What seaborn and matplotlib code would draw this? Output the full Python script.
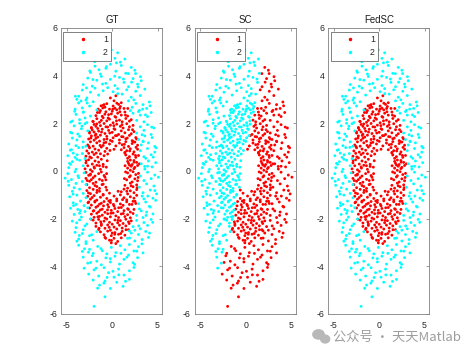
import matplotlib
matplotlib.use("Agg")
import matplotlib.pyplot as plt
import pandas as pd
import seaborn as sns
from matplotlib.lines import Line2D
from matplotlib.patches import Ellipse

PANEL_TITLES = ["GT", "SC", "FedSC"]
CLUSTER_NAMES = ["1", "2"]
CLUSTER_COLORS = {1: "#ff0000", 2: "#00ffff"}
X_TICKS = [-5, 0, 5]
Y_TICKS = [-6, -4, -2, 0, 2, 4, 6]

# inner ring, SC puts these in cluster 2
inner_left = [
    (-0.6, 2.81), (0.2, 2.93), (0.7, 2.78), (-0.2, 3.05), (0.4, 3.14), (-0.9, 2.77), (1.0, 2.85),
    (-1.3, 2.52), (-0.8, 2.66), (-0.3, 2.58), (0.1, 2.71), (0.5, 2.55), (0.9, 2.69), (-1.0, 2.74), (0.3, 2.62),
    (-1.8, 2.31), (-1.4, 2.44), (-1.1, 2.28), (-0.7, 2.47), (-0.4, 2.35), (0.0, 2.49), (0.3, 2.27), (0.6, 2.41), (-0.1, 2.38),
    (-2.1, 2.06), (-1.7, 2.18), (-1.4, 2.03), (-1.0, 2.22), (-0.6, 2.09), (-0.3, 2.16), (0.1, 2.01), (0.4, 2.24), (-1.2, 2.11),
    (-2.3, 1.81), (-2.0, 1.94), (-1.6, 1.77), (-1.3, 1.89), (-0.9, 1.98), (-0.5, 1.83), (-0.2, 1.91), (0.2, 1.76), (0.5, 1.95), (-1.8, 1.86),
    (-2.5, 1.58), (-2.2, 1.71), (-1.8, 1.53), (-1.5, 1.66), (-1.1, 1.74), (-0.8, 1.56), (-0.4, 1.69), (0.0, 1.61), (0.3, 1.73), (-2.0, 1.62),
    (-2.6, 1.33), (-2.3, 1.46), (-2.0, 1.28), (-1.6, 1.41), (-1.3, 1.49), (-0.9, 1.31), (-0.6, 1.44), (-0.2, 1.27), (0.1, 1.38), (-1.8, 1.36),
    (-2.7, 1.08), (-2.4, 1.21), (-2.1, 1.03), (-1.7, 1.17), (-1.4, 1.24), (-1.0, 1.06), (-0.7, 1.19), (-0.3, 1.12), (0.0, 1.23),
    (-2.8, 0.83), (-2.5, 0.96), (-2.2, 0.78), (-1.9, 0.91), (-1.5, 0.86), (-1.2, 0.99), (-0.8, 0.81), (-0.6, 0.94),
    (-2.9, 0.61), (-2.6, 0.73), (-2.3, 0.54), (-2.0, 0.68), (-1.6, 0.57), (-1.3, 0.71), (-0.9, 0.63), (-0.5, 0.70),
    (-2.9, 0.33), (-2.6, 0.46), (-2.2, 0.28), (-1.9, 0.41), (-1.5, 0.36), (-1.2, 0.48), (-1.0, 0.27),
    (-3.0, 0.08), (-2.7, 0.21), (-2.4, 0.04), (-2.0, 0.16), (-1.7, 0.23), (-1.3, 0.06), (-1.0, 0.18),
    (-2.9, -0.07), (-2.6, -0.19), (-2.2, -0.03), (-1.9, -0.22), (-1.5, -0.12), (-1.2, -0.05), (-0.9, -0.20), (-2.4, -0.14),
    (-2.9, -0.32), (-2.5, -0.44), (-2.1, -0.29), (-1.8, -0.48), (-1.4, -0.36), (-1.1, -0.41), (-0.8, -0.27), (-2.3, -0.37),
    (-2.8, -0.58), (-2.5, -0.71), (-2.1, -0.53), (-1.7, -0.66), (-1.4, -0.74), (-1.0, -0.56), (-0.7, -0.69), (-1.9, -0.62),
    (-2.8, -0.83), (-2.4, -0.96), (-2.1, -0.78), (-1.7, -0.91), (-1.4, -0.86), (-1.0, -0.99),
    (-2.7, -1.07), (-2.4, -1.19), (-2.0, -1.04), (-1.7, -1.23), (-1.3, -1.11), (-1.0, -1.02),
    (-2.6, -1.31), (-2.3, -1.44), (-1.9, -1.27), (-1.6, -1.48), (-1.2, -1.36), (-1.4, -1.40),
    (-2.5, -1.56), (-2.1, -1.69), (-1.8, -1.53), (-1.5, -1.72), (-1.3, -1.64),
    (-2.3, -1.82), (-2.0, -1.95), (-1.7, -1.78), (-1.4, -1.91),
    (-2.1, -2.07), (-1.8, -2.19), (-1.5, -2.04),
    (-1.8, -2.33),
    (-1.55, 2.58), (0.85, 2.47), (-2.35, 1.37), (-0.45, 2.21), (-2.76, -0.41), (-1.18, 1.62),
    (0.18, 1.89), (-1.92, -1.31), (-2.47, 0.58), (-1.63, 2.44), (-2.21, -1.12), (0.51, 2.83),
    (-1.04, 2.63), (-2.58, 1.02), (-1.41, 0.21), (-2.03, -1.67), (0.36, 1.47), (-1.77, 0.74),
    (-0.58, 1.33), (-2.62, -0.93), (-0.81, 2.37), (-2.14, 2.07), (0.07, 2.58), (-1.66, -0.82),
    (-2.88, 0.42), (-0.27, 1.58), (-1.34, 1.06), (-1.87, 1.48), (-2.43, -0.18), (-1.12, -0.58),
    (-0.69, 1.84), (-2.29, 1.79), (-2.67, -1.34), (0.47, 2.09), (-1.71, 1.96), (-1.96, 0.11),
    (-1.23, 2.72), (0.82, 2.61), (-2.52, 1.63), (-0.91, 1.17), (-2.34, -2.03), (-1.58, -1.93),
    (-0.65, 0.15), (-0.70, -0.38), (-0.55, 0.42), (-0.62, -0.12), (-0.25, 0.85),
]

# inner ring, SC puts these in cluster 1
inner_right = [
    (1.3, 2.61),
    (1.0, 2.33), (1.4, 2.46), (1.7, 2.29),
    (0.8, 2.12), (1.1, 2.05), (1.5, 2.19), (1.9, 2.08), (2.1, 2.14),
    (0.9, 1.86), (1.2, 1.79), (1.6, 1.97), (1.9, 1.84), (2.3, 1.90),
    (0.7, 1.52), (1.0, 1.67), (1.4, 1.59), (1.8, 1.72), (2.1, 1.55), (2.4, 1.64),
    (0.5, 1.47), (0.8, 1.29), (1.2, 1.42), (1.5, 1.34), (1.9, 1.48), (2.2, 1.26), (2.6, 1.39),
    (0.4, 1.04), (0.8, 1.16), (1.1, 1.09), (1.5, 1.22), (1.8, 1.02), (2.2, 1.14), (2.5, 1.20), (2.8, 1.07),
    (1.0, 0.88), (1.4, 0.77), (1.3, 0.97), (1.6, 0.84), (2.0, 0.92), (2.4, 0.79), (2.8, 0.90),
    (1.5, 0.66), (1.7, 0.52), (1.4, 0.74), (1.9, 0.59), (2.3, 0.70), (2.6, 0.56), (2.9, 0.64),
    (1.7, 0.39), (1.8, 0.31), (2.0, 0.45), (2.2, 0.26), (2.4, 0.43), (2.7, 0.35), (3.0, 0.29),
    (1.7, 0.11), (1.9, 0.24), (2.0, 0.02), (2.1, 0.19), (2.4, 0.09), (2.8, 0.22), (2.5, 0.14),
    (1.7, -0.09), (2.0, -0.21), (2.3, -0.04), (2.6, -0.16), (2.9, -0.11),
    (1.6, -0.38), (1.9, -0.26), (2.2, -0.47), (2.5, -0.34), (2.8, -0.42),
    (1.4, -0.61), (1.7, -0.73), (2.0, -0.52), (2.3, -0.67), (2.7, -0.59),
    (-0.6, -0.81), (-0.3, -0.94), (1.0, -0.88), (1.3, -0.77), (1.7, -0.97), (2.0, -0.84), (2.4, -0.92), (2.7, -0.79),
    (-0.6, -1.16), (-0.2, -1.24), (0.2, -1.06), (0.5, -1.18), (0.9, -1.01), (1.3, -1.13), (1.6, -1.22), (2.0, -1.09), (2.4, -1.15), (2.7, -1.03),
    (-0.9, -1.29), (-0.5, -1.42), (-0.2, -1.33), (0.2, -1.47), (0.5, -1.26), (0.9, -1.39), (1.2, -1.45), (1.6, -1.30), (1.9, -1.41), (2.3, -1.28), (2.6, -1.37),
    (-1.1, -1.61), (-0.8, -1.74), (-0.4, -1.52), (-0.1, -1.66), (0.3, -1.58), (0.6, -1.71), (1.0, -1.54), (1.3, -1.67), (1.7, -1.59), (2.0, -1.73), (2.4, -1.62),
    (-1.1, -1.86), (-0.8, -1.98), (-0.5, -1.80), (-0.2, -1.93), (0.1, -1.77), (0.4, -1.89), (0.7, -1.96), (1.0, -1.81), (1.4, -1.92), (1.7, -1.84), (2.0, -1.97), (2.3, -1.79),
    (-1.2, -2.23), (-0.9, -2.11), (-0.6, -2.02), (-0.3, -2.16), (0.0, -2.24), (0.3, -2.06), (0.6, -2.18), (0.9, -2.09), (1.2, -2.21), (1.5, -2.03), (1.8, -2.14), (2.1, -2.10),
    (-1.5, -2.46), (-1.2, -2.29), (-0.8, -2.41), (-0.5, -2.27), (-0.2, -2.49), (0.2, -2.36), (0.5, -2.44), (0.8, -2.28), (1.1, -2.40), (1.5, -2.31), (1.8, -2.47),
    (-1.3, -2.56), (-0.9, -2.68), (-0.5, -2.53), (-0.1, -2.72), (0.3, -2.59), (0.7, -2.66), (1.1, -2.54), (1.4, -2.70), (0.0, -2.61),
    (-0.8, -2.79), (-0.3, -2.91), (0.2, -2.83), (0.6, -2.96), (1.0, -2.81), (0.4, -3.05), (-0.1, -3.02),
    (1.72, 2.61), (2.63, 0.98), (1.35, 1.11), (0.72, -1.55), (-0.33, -2.37), (2.18, -1.41),
    (1.08, 1.93), (2.41, 0.36), (-0.96, -1.47), (1.87, -2.21), (-0.72, -2.83), (2.75, -0.71),
    (1.93, 0.83), (-0.14, -1.78), (1.61, -0.86), (2.24, 1.72), (0.94, -2.63), (-1.26, -2.14),
    (1.46, 2.33), (2.52, -1.28), (1.22, -1.79), (2.86, -0.28), (0.63, -2.08), (1.66, 1.37),
    (-0.52, -1.64), (2.09, -0.63), (0.28, -2.66), (1.04, 1.43), (-1.45, -2.41), (2.33, 1.22),
    (-0.08, -2.92), (1.79, -1.62), (2.57, 0.64), (-0.38, -1.27), (1.14, -1.21), (1.52, -2.47),
    (2.69, 1.33), (0.13, -1.41),
    (1.42, 0.21), (1.35, -0.33), (1.48, -0.05), (0.65, -0.86), (0.20, 0.90),
]

# outer ring, SC puts these in cluster 2
outer_left = [
    (-1.2, 4.62), (-0.5, 4.88), (0.3, 4.71), (0.9, 4.55), (-0.1, 5.06), (1.4, 4.68), (0.6, 4.94),
    (-2.4, 4.12), (-1.9, 4.38), (-1.3, 4.05), (-0.7, 4.29), (-0.2, 4.46), (0.4, 4.17), (1.0, 4.41), (1.5, 4.08),
    (-3.2, 3.61), (-2.7, 3.88), (-2.2, 3.54), (-1.7, 3.79), (-1.2, 3.95), (-0.7, 3.66), (-0.2, 3.83), (0.3, 3.57), (0.8, 3.91), (1.3, 3.70),
    (-3.7, 3.12), (-3.3, 3.38), (-2.8, 3.05), (-2.4, 3.29), (-1.9, 3.46), (-1.5, 3.17), (-1.0, 3.35), (-0.5, 3.48), (0.1, 3.31), (0.6, 3.44), (1.1, 3.21),
    (-4.1, 2.58), (-3.7, 2.84), (-3.3, 2.63), (-2.9, 2.96), (-2.5, 2.71), (-2.1, 2.89), (-1.7, 2.55), (-3.9, 2.99),
    (-4.4, 2.08), (-4.0, 2.36), (-3.6, 2.14), (-3.2, 2.45), (-2.8, 2.02), (-2.4, 2.29), (-3.0, 2.21),
    (-4.6, 1.61), (-4.2, 1.88), (-3.8, 1.54), (-3.4, 1.76), (-3.0, 1.97), (-2.7, 1.67), (-3.6, 1.99),
    (-4.8, 1.12), (-4.4, 1.37), (-4.0, 1.05), (-3.6, 1.44), (-3.2, 1.21), (-2.9, 1.03), (-3.9, 1.29),
    (-4.9, 0.63), (-4.5, 0.88), (-4.1, 0.56), (-3.7, 0.97), (-3.3, 0.72), (-3.0, 0.51), (-4.3, 0.74),
    (-4.8, 0.13), (-4.4, 0.38), (-4.0, 0.06), (-3.6, 0.44), (-3.2, 0.21), (-4.6, 0.27), (-3.9, 0.48),
    (-4.9, -0.12), (-4.5, -0.37), (-4.1, -0.04), (-3.7, -0.29), (-3.3, -0.45), (-3.1, -0.09), (-5.2, -0.31),
    (-4.8, -0.61), (-4.4, -0.86), (-4.0, -0.53), (-3.6, -0.77), (-3.2, -0.95), (-2.9, -0.58), (-4.2, -0.71),
    (-4.7, -1.09), (-4.3, -1.34), (-3.9, -1.02), (-3.5, -1.27), (-3.1, -1.46), (-2.9, -1.13), (-4.0, -1.41),
    (-4.6, -1.57), (-4.2, -1.83), (-3.8, -1.62), (-3.4, -1.94), (-3.0, -1.71), (-2.7, -1.55), (-3.6, -1.78),
    (-4.4, -2.11), (-4.0, -2.38), (-3.6, -2.06), (-3.2, -2.47), (-2.8, -2.23), (-2.4, -2.02), (-3.0, -2.31),
    (-4.1, -2.58), (-3.7, -2.86), (-3.3, -2.63), (-2.9, -2.97), (-2.5, -2.72), (-2.1, -2.91), (-1.7, -2.55), (-3.9, -2.95),
    (-3.7, -3.12), (-3.3, -3.38), (-2.9, -3.05), (-2.5, -3.29),
    (-3.2, -3.62), (-2.7, -3.87),
    (-3.1, -4.08),
    (-3.45, 2.92), (-4.27, -1.46), (-1.46, 4.23), (-4.63, 0.86), (-2.62, -3.41), (-3.92, -2.18),
    (-2.13, 3.82), (-4.86, -0.44), (0.47, 4.52), (-3.34, 1.87), (-4.45, 1.58), (1.24, 3.84),
    (-3.06, -3.27), (-0.37, 4.93), (-2.84, 3.47), (-4.14, 2.49), (-3.63, -2.71), (-1.07, 3.63),
    (-4.71, 0.31), (-0.64, 4.36), (-3.87, 0.67), (-3.17, 2.46), (-1.93, 4.57), (-4.32, -0.98),
    (-2.76, 2.84), (-3.52, -1.67), (0.27, 3.96), (-4.06, 3.12), (-2.47, 4.18), (-3.78, -0.21),
    (0.61, 3.23), (-4.58, 2.04), (-3.24, 0.98), (-2.26, -2.68),
]

# outer ring, SC puts these in cluster 1
outer_right = [
    (2.1, 4.33), (2.5, 4.21),
    (1.8, 3.52), (2.3, 3.86), (2.8, 3.63), (3.2, 3.77),
    (1.6, 3.39), (2.1, 3.08), (2.6, 3.33), (3.1, 3.15), (3.6, 3.42),
    (1.8, 2.93), (2.2, 2.66), (2.6, 2.82), (3.0, 2.53), (3.4, 2.77), (3.8, 2.61), (4.1, 2.88), (2.0, 2.52),
    (2.3, 2.41), (2.7, 2.11), (3.1, 2.33), (3.5, 2.05), (3.9, 2.27), (4.3, 2.44), (2.9, 2.48),
    (2.7, 1.58), (3.1, 1.84), (3.5, 1.69), (3.9, 1.93), (4.3, 1.52), (4.6, 1.79), (3.3, 1.51),
    (2.9, 1.31), (3.2, 1.08), (3.6, 1.46), (4.0, 1.17), (4.4, 1.39), (4.7, 1.02), (3.4, 1.24),
    (3.1, 0.84), (3.5, 0.59), (3.9, 0.93), (4.3, 0.67), (4.7, 0.78), (3.7, 0.52),
    (3.2, 0.29), (3.6, 0.07), (4.0, 0.41), (4.4, 0.16), (4.8, 0.34), (3.9, 0.19),
    (3.1, -0.22), (3.5, -0.41), (3.9, -0.06), (4.3, -0.33), (4.7, -0.18), (5.1, -0.27),
    (3.0, -0.69), (3.4, -0.92), (3.8, -0.55), (4.2, -0.81), (4.6, -0.64), (4.9, -0.97),
    (2.9, -1.38), (3.3, -1.06), (3.7, -1.31), (4.1, -1.49), (4.5, -1.15), (4.8, -1.24), (3.5, -1.18),
    (2.7, -1.87), (3.0, -1.60), (3.4, -1.96), (3.8, -1.73), (4.2, -1.52), (4.5, -1.81), (3.2, -1.68),
    (2.3, -2.34), (2.7, -2.08), (3.1, -2.43), (3.5, -2.17), (3.9, -2.29), (4.3, -2.04), (2.5, -2.49),
    (1.7, -2.83), (2.1, -2.61), (2.5, -2.94), (2.9, -2.67), (3.3, -2.88), (3.7, -2.54), (4.0, -2.79), (1.9, -2.52),
    (-2.1, -3.46), (-1.6, -3.17), (-1.1, -3.35), (-0.6, -3.48), (-0.1, -3.21), (0.4, -3.43), (0.9, -3.14), (1.4, -3.31), (1.9, -3.09), (2.4, -3.36), (2.9, -3.18), (3.4, -3.44),
    (-2.2, -3.56), (-1.7, -3.79), (-1.2, -3.94), (-0.7, -3.65), (-0.2, -3.82), (0.3, -3.58), (0.8, -3.91), (1.3, -3.71), (1.8, -3.53), (2.3, -3.85), (2.8, -3.64),
    (-2.6, -4.33), (-2.0, -4.15), (-1.5, -4.41), (-0.9, -4.06), (-0.4, -4.27), (0.2, -4.46), (0.7, -4.12), (1.3, -4.37), (1.9, -4.19), (2.4, -4.05),
    (-2.1, -4.58), (-1.4, -4.79), (-0.8, -4.62), (-0.2, -4.93), (0.5, -4.67), (1.2, -4.84), (1.9, -4.55), (-0.8, -5.28), (-2.0, -5.68),
    (2.86, 3.51), (4.12, -2.61), (0.73, -4.36), (3.67, 2.34), (1.78, 4.07), (4.53, 0.57),
    (-0.92, -4.71), (3.28, -3.06), (2.47, -3.92), (4.36, 1.83), (-1.78, -4.08), (3.93, -1.06),
    (4.71, -0.83), (0.08, -4.21), (2.14, 3.71), (3.42, 1.22), (1.63, -3.62), (2.92, -2.31),
    (-2.39, -3.84), (4.18, 2.72), (0.96, -3.46), (3.74, -1.87), (2.38, 2.97), (-0.21, -3.68),
    (3.12, 3.94), (4.84, 0.96), (1.47, -4.63), (-1.24, -3.26), (2.71, -3.37), (3.58, 0.18),
    (-0.57, -4.47), (4.47, -2.16), (1.92, -2.82), (-1.61, -4.92), (3.36, 2.58), (2.58, 4.07),
]

# (points, GT cluster, SC cluster); FedSC recovers the GT clusters
groups = [
    (inner_left, 1, 2),
    (inner_right, 1, 1),
    (outer_left, 2, 2),
    (outer_right, 2, 1),
]

rows = []
for pts, gt, sc in groups:
    for x, y in pts:
        rows.append({"x": x, "y": y, "GT": gt, "SC": sc, "FedSC": gt})
df = pd.DataFrame(rows)

sns.set_style("white")
plt.rcParams["font.family"] = ["Liberation Sans", "DejaVu Sans"]
plt.rcParams["axes.unicode_minus"] = False

fig = plt.figure(figsize=(4.74, 3.55), dpi=100)
lefts = [0.1297, 0.4114, 0.6930]

for left, title in zip(lefts, PANEL_TITLES):
    ax = fig.add_axes([left, 0.1155, 0.2131, 0.807])
    d = df.sort_values(title, kind="stable")
    sns.scatterplot(data=d, x="x", y="y", hue=title, palette=CLUSTER_COLORS,
                    s=4.2, linewidth=0, legend=False, ax=ax)
    ax.set_xlim(-5.6, 5.55)
    ax.set_ylim(-6, 6)
    ax.set_xticks(X_TICKS)
    ax.set_yticks(Y_TICKS)
    ax.set_xlabel("")
    ax.set_ylabel("")
    ax.set_title(title, fontsize=6.9, pad=3.5, color="0.1")
    for s in ax.spines.values():
        s.set_color("0.5")
        s.set_linewidth(0.6)
    ax.tick_params(direction="in", top=True, right=True, length=2.5, width=0.5,
                   color="0.45", labelsize=6.3, labelcolor="0.15")
    ax.tick_params(axis="x", pad=5)
    ax.tick_params(axis="y", pad=3)

    handles = [Line2D([0], [0], marker=".", ls="none", color=CLUSTER_COLORS[k], markersize=3)
               for k in (1, 2)]
    leg = ax.legend(handles, CLUSTER_NAMES, loc="upper left", bbox_to_anchor=(0.02, 0.985),
                    borderaxespad=0, fancybox=False, framealpha=1, edgecolor="0.3",
                    fontsize=6.3, handlelength=3.7, handletextpad=0.4, borderpad=0.4,
                    labelspacing=0.45)
    leg.get_frame().set_linewidth(0.5)

# watermark
fig.patches.append(Ellipse((0.672, 0.058), 0.024, 0.026, transform=fig.transFigure,
                           color="0.72", zorder=5))
fig.patches.append(Ellipse((0.686, 0.045), 0.019, 0.022, transform=fig.transFigure,
                           color="0.72", zorder=5))
fig.text(0.703, 0.051, "公众号 · 天天Matlab", family=["Noto Sans CJK SC", "DejaVu Sans"],
         fontsize=9.5, color="0.62", va="center", ha="left")

fig.savefig("out.png", dpi=100)
